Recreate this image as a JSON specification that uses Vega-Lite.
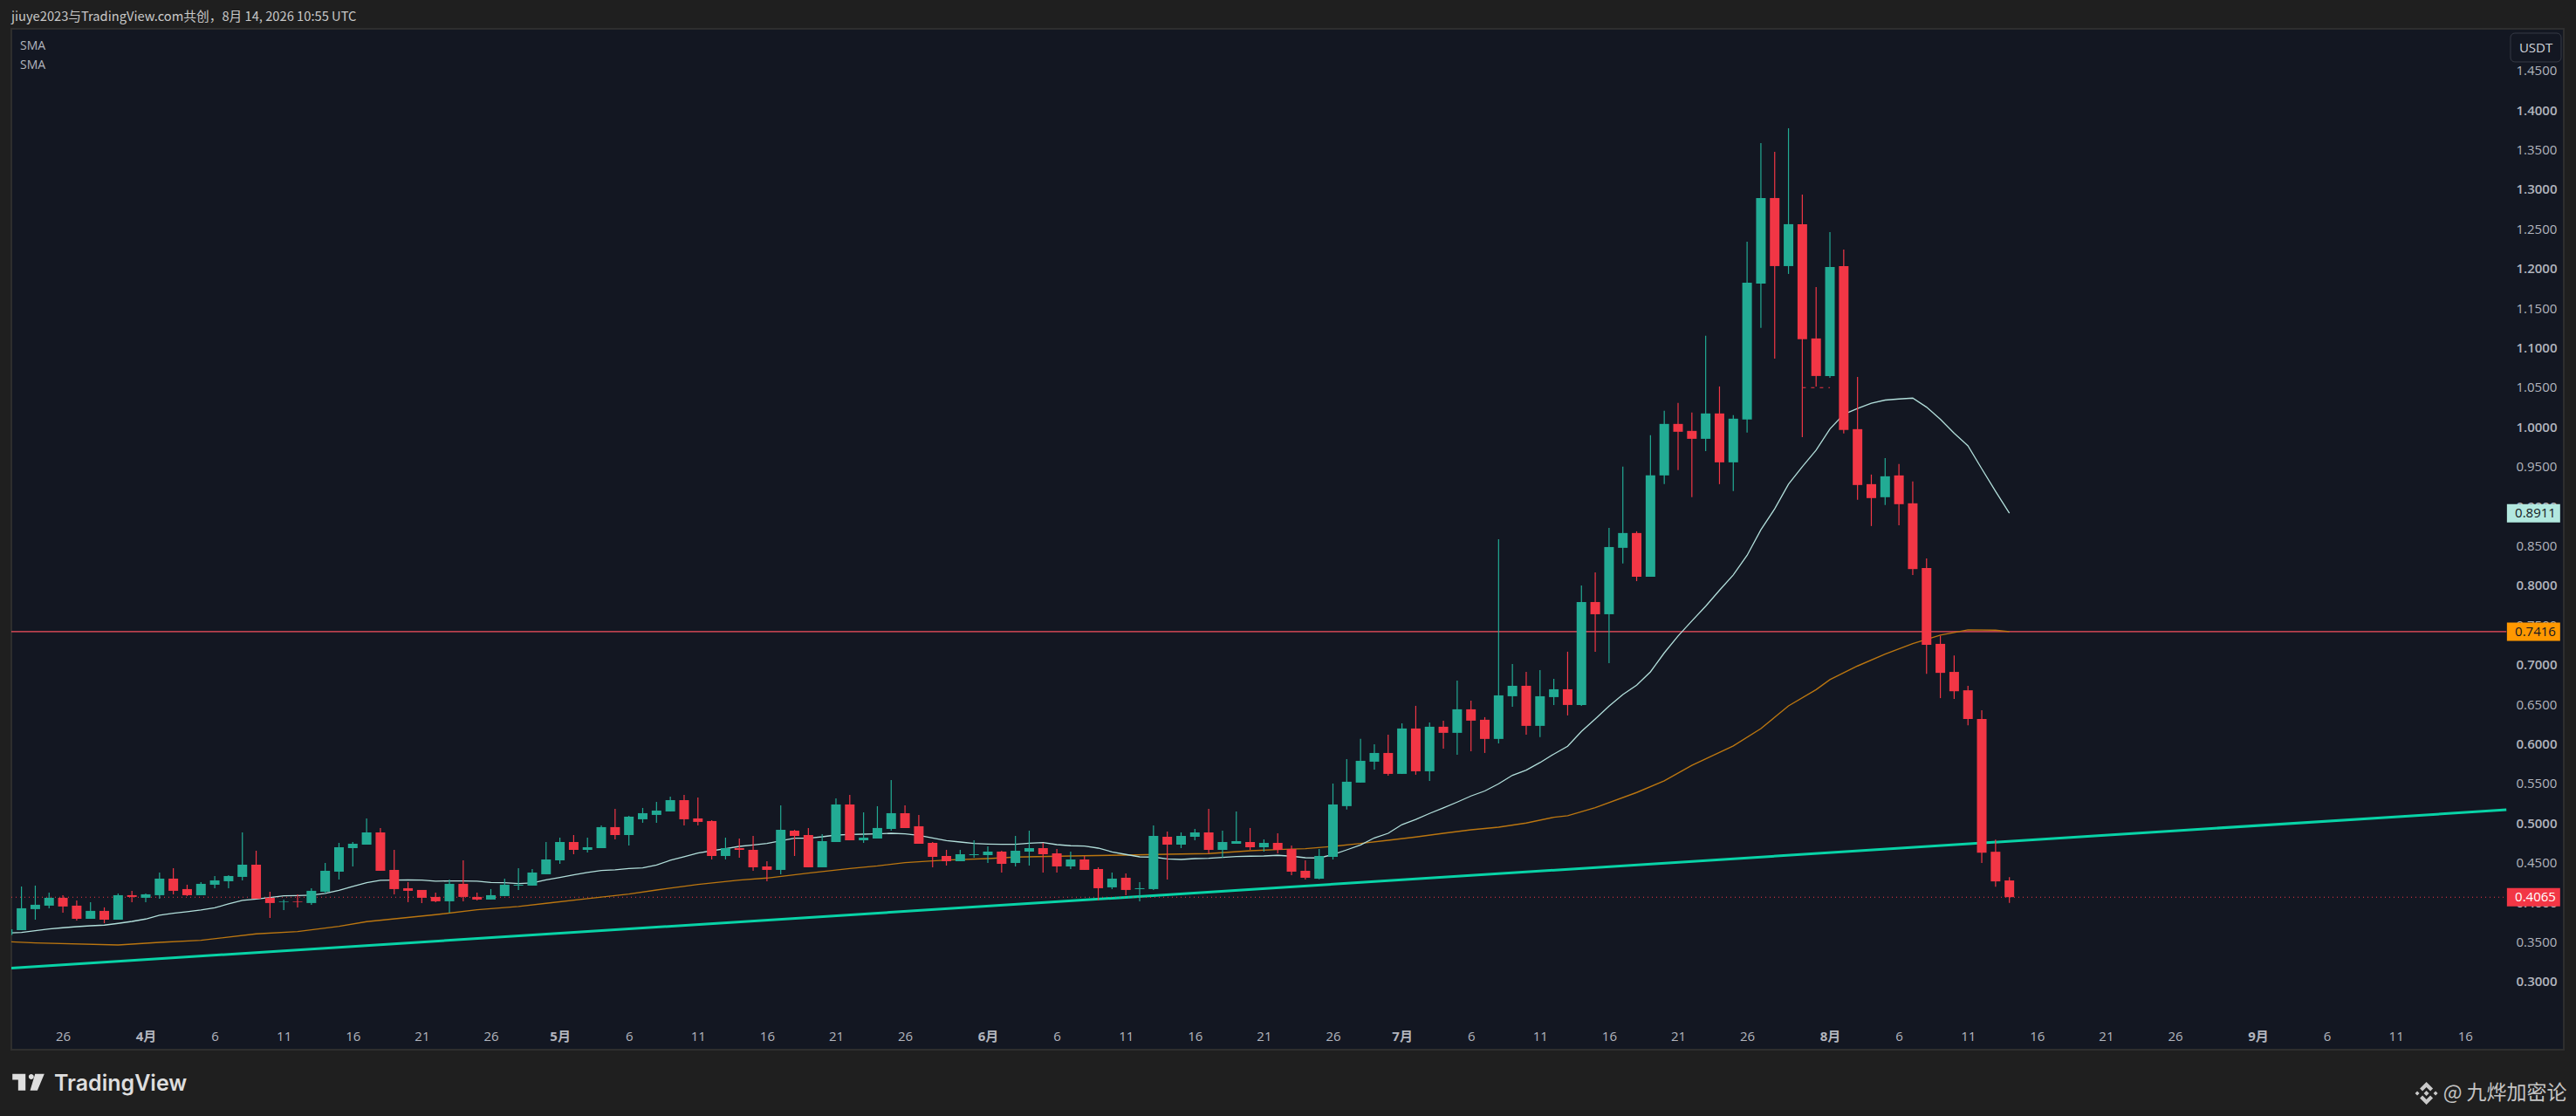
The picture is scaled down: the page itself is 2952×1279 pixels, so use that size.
{
  "$schema": "https://vega.github.io/schema/vega-lite/v6.json",
  "width": 2925,
  "height": 1170,
  "autosize": "none",
  "padding": {"left": 13, "top": 33, "right": 14, "bottom": 76},
  "background": "#1f1f1f",
  "view": {"fill": "#131722", "stroke": "#2e2e2e", "strokeWidth": 2},
  "datasets": {
    "candles": [
      {"d":"2026-03-22","o":0.3587,"h":0.3660,"l":0.3587,"c":0.3660},
      {"d":"2026-03-23","o":0.3649,"h":0.4200,"l":0.3649,"c":0.3925},
      {"d":"2026-03-24","o":0.3914,"h":0.4211,"l":0.3781,"c":0.3969},
      {"d":"2026-03-25","o":0.3958,"h":0.4123,"l":0.3925,"c":0.4057},
      {"d":"2026-03-26","o":0.4057,"h":0.4090,"l":0.3870,"c":0.3947},
      {"d":"2026-03-27","o":0.3958,"h":0.4024,"l":0.3770,"c":0.3792},
      {"d":"2026-03-28","o":0.3792,"h":0.4002,"l":0.3792,"c":0.3892},
      {"d":"2026-03-29","o":0.3892,"h":0.3936,"l":0.3737,"c":0.3781},
      {"d":"2026-03-30","o":0.3781,"h":0.4112,"l":0.3781,"c":0.4090},
      {"d":"2026-03-31","o":0.4090,"h":0.4145,"l":0.4002,"c":0.4068},
      {"d":"2026-04-01","o":0.4057,"h":0.4112,"l":0.4002,"c":0.4101},
      {"d":"2026-04-02","o":0.4090,"h":0.4376,"l":0.4046,"c":0.4299},
      {"d":"2026-04-03","o":0.4299,"h":0.4431,"l":0.4101,"c":0.4145},
      {"d":"2026-04-04","o":0.4167,"h":0.4222,"l":0.4079,"c":0.4090},
      {"d":"2026-04-05","o":0.4090,"h":0.4255,"l":0.4090,"c":0.4233},
      {"d":"2026-04-06","o":0.4222,"h":0.4332,"l":0.4178,"c":0.4277},
      {"d":"2026-04-07","o":0.4266,"h":0.4343,"l":0.4178,"c":0.4332},
      {"d":"2026-04-08","o":0.4321,"h":0.4882,"l":0.4277,"c":0.4475},
      {"d":"2026-04-09","o":0.4475,"h":0.4651,"l":0.4046,"c":0.4046},
      {"d":"2026-04-10","o":0.4057,"h":0.4134,"l":0.3803,"c":0.3991},
      {"d":"2026-04-11","o":0.4002,"h":0.4035,"l":0.3903,"c":0.4009},
      {"d":"2026-04-12","o":0.4009,"h":0.4101,"l":0.3936,"c":0.4002},
      {"d":"2026-04-13","o":0.3991,"h":0.4178,"l":0.3969,"c":0.4145},
      {"d":"2026-04-14","o":0.4134,"h":0.4497,"l":0.4112,"c":0.4398},
      {"d":"2026-04-15","o":0.4387,"h":0.4750,"l":0.4288,"c":0.4695},
      {"d":"2026-04-16","o":0.4684,"h":0.4761,"l":0.4453,"c":0.4739},
      {"d":"2026-04-17","o":0.4728,"h":0.5059,"l":0.4728,"c":0.4882},
      {"d":"2026-04-18","o":0.4882,"h":0.4938,"l":0.4398,"c":0.4398},
      {"d":"2026-04-19","o":0.4409,"h":0.4662,"l":0.4101,"c":0.4167},
      {"d":"2026-04-20","o":0.4178,"h":0.4255,"l":0.4002,"c":0.4145},
      {"d":"2026-04-21","o":0.4156,"h":0.4156,"l":0.3991,"c":0.4057},
      {"d":"2026-04-22","o":0.4068,"h":0.4123,"l":0.4002,"c":0.4013},
      {"d":"2026-04-23","o":0.4013,"h":0.4288,"l":0.3870,"c":0.4233},
      {"d":"2026-04-24","o":0.4233,"h":0.4530,"l":0.4013,"c":0.4068},
      {"d":"2026-04-25","o":0.4068,"h":0.4123,"l":0.4024,"c":0.4035},
      {"d":"2026-04-26","o":0.4035,"h":0.4167,"l":0.4035,"c":0.4090},
      {"d":"2026-04-27","o":0.4079,"h":0.4299,"l":0.4079,"c":0.4222},
      {"d":"2026-04-28","o":0.4211,"h":0.4431,"l":0.4156,"c":0.4222},
      {"d":"2026-04-29","o":0.4211,"h":0.4420,"l":0.4211,"c":0.4376},
      {"d":"2026-04-30","o":0.4354,"h":0.4761,"l":0.4354,"c":0.4541},
      {"d":"2026-05-01","o":0.4530,"h":0.4816,"l":0.4486,"c":0.4761},
      {"d":"2026-05-02","o":0.4761,"h":0.4849,"l":0.4607,"c":0.4662},
      {"d":"2026-05-03","o":0.4662,"h":0.4816,"l":0.4629,"c":0.4695},
      {"d":"2026-05-04","o":0.4684,"h":0.4971,"l":0.4684,"c":0.4949},
      {"d":"2026-05-05","o":0.4949,"h":0.5180,"l":0.4794,"c":0.4849},
      {"d":"2026-05-06","o":0.4849,"h":0.5092,"l":0.4717,"c":0.5081},
      {"d":"2026-05-07","o":0.5048,"h":0.5191,"l":0.5004,"c":0.5125},
      {"d":"2026-05-08","o":0.5103,"h":0.5268,"l":0.5004,"c":0.5158},
      {"d":"2026-05-09","o":0.5147,"h":0.5334,"l":0.5147,"c":0.5290},
      {"d":"2026-05-10","o":0.5290,"h":0.5356,"l":0.4971,"c":0.5048},
      {"d":"2026-05-11","o":0.5059,"h":0.5323,"l":0.4971,"c":0.5015},
      {"d":"2026-05-12","o":0.5026,"h":0.5037,"l":0.4541,"c":0.4585},
      {"d":"2026-05-13","o":0.4585,"h":0.4816,"l":0.4541,"c":0.4684},
      {"d":"2026-05-14","o":0.4684,"h":0.4805,"l":0.4563,"c":0.4662},
      {"d":"2026-05-15","o":0.4662,"h":0.4838,"l":0.4398,"c":0.4442},
      {"d":"2026-05-16","o":0.4453,"h":0.4519,"l":0.4266,"c":0.4409},
      {"d":"2026-05-17","o":0.4409,"h":0.5224,"l":0.4354,"c":0.4915},
      {"d":"2026-05-18","o":0.4904,"h":0.4915,"l":0.4585,"c":0.4838},
      {"d":"2026-05-19","o":0.4849,"h":0.4938,"l":0.4442,"c":0.4442},
      {"d":"2026-05-20","o":0.4442,"h":0.4860,"l":0.4442,"c":0.4772},
      {"d":"2026-05-21","o":0.4761,"h":0.5312,"l":0.4761,"c":0.5235},
      {"d":"2026-05-22","o":0.5235,"h":0.5356,"l":0.4783,"c":0.4783},
      {"d":"2026-05-23","o":0.4783,"h":0.5136,"l":0.4750,"c":0.4816},
      {"d":"2026-05-24","o":0.4805,"h":0.5213,"l":0.4805,"c":0.4938},
      {"d":"2026-05-25","o":0.4926,"h":0.5543,"l":0.4904,"c":0.5125},
      {"d":"2026-05-26","o":0.5125,"h":0.5224,"l":0.4938,"c":0.4938},
      {"d":"2026-05-27","o":0.4960,"h":0.5103,"l":0.4739,"c":0.4739},
      {"d":"2026-05-28","o":0.4750,"h":0.4761,"l":0.4442,"c":0.4574},
      {"d":"2026-05-29","o":0.4585,"h":0.4662,"l":0.4464,"c":0.4519},
      {"d":"2026-05-30","o":0.4519,"h":0.4662,"l":0.4519,"c":0.4607},
      {"d":"2026-05-31","o":0.4596,"h":0.4783,"l":0.4563,"c":0.4607},
      {"d":"2026-06-01","o":0.4596,"h":0.4706,"l":0.4497,"c":0.4640},
      {"d":"2026-06-02","o":0.4640,"h":0.4651,"l":0.4376,"c":0.4486},
      {"d":"2026-06-03","o":0.4497,"h":0.4838,"l":0.4453,"c":0.4651},
      {"d":"2026-06-04","o":0.4640,"h":0.4904,"l":0.4464,"c":0.4684},
      {"d":"2026-06-05","o":0.4684,"h":0.4750,"l":0.4376,"c":0.4607},
      {"d":"2026-06-06","o":0.4618,"h":0.4673,"l":0.4376,"c":0.4453},
      {"d":"2026-06-07","o":0.4453,"h":0.4640,"l":0.4420,"c":0.4541},
      {"d":"2026-06-08","o":0.4541,"h":0.4585,"l":0.4409,"c":0.4409},
      {"d":"2026-06-09","o":0.4420,"h":0.4442,"l":0.4024,"c":0.4178},
      {"d":"2026-06-10","o":0.4189,"h":0.4376,"l":0.4167,"c":0.4299},
      {"d":"2026-06-11","o":0.4310,"h":0.4365,"l":0.4090,"c":0.4156},
      {"d":"2026-06-12","o":0.4167,"h":0.4255,"l":0.4013,"c":0.4178},
      {"d":"2026-06-13","o":0.4167,"h":0.4971,"l":0.4156,"c":0.4838},
      {"d":"2026-06-14","o":0.4827,"h":0.4893,"l":0.4288,"c":0.4728},
      {"d":"2026-06-15","o":0.4728,"h":0.4882,"l":0.4684,"c":0.4838},
      {"d":"2026-06-16","o":0.4827,"h":0.4926,"l":0.4783,"c":0.4882},
      {"d":"2026-06-17","o":0.4882,"h":0.5180,"l":0.4618,"c":0.4662},
      {"d":"2026-06-18","o":0.4662,"h":0.4904,"l":0.4563,"c":0.4761},
      {"d":"2026-06-19","o":0.4739,"h":0.5147,"l":0.4739,"c":0.4772},
      {"d":"2026-06-20","o":0.4761,"h":0.4938,"l":0.4662,"c":0.4695},
      {"d":"2026-06-21","o":0.4695,"h":0.4794,"l":0.4640,"c":0.4750},
      {"d":"2026-06-22","o":0.4750,"h":0.4871,"l":0.4618,"c":0.4662},
      {"d":"2026-06-23","o":0.4673,"h":0.4717,"l":0.4343,"c":0.4387},
      {"d":"2026-06-24","o":0.4398,"h":0.4530,"l":0.4288,"c":0.4310},
      {"d":"2026-06-25","o":0.4298,"h":0.4673,"l":0.4290,"c":0.4585},
      {"d":"2026-06-26","o":0.4574,"h":0.5499,"l":0.4541,"c":0.5235},
      {"d":"2026-06-27","o":0.5214,"h":0.5808,"l":0.5170,"c":0.5522},
      {"d":"2026-06-28","o":0.5511,"h":0.6062,"l":0.5511,"c":0.5786},
      {"d":"2026-06-29","o":0.5775,"h":0.5995,"l":0.5676,"c":0.5885},
      {"d":"2026-06-30","o":0.5885,"h":0.6117,"l":0.5599,"c":0.5621},
      {"d":"2026-07-01","o":0.5621,"h":0.6260,"l":0.5621,"c":0.6194},
      {"d":"2026-07-02","o":0.6194,"h":0.6480,"l":0.5610,"c":0.5654},
      {"d":"2026-07-03","o":0.5654,"h":0.6271,"l":0.5533,"c":0.6216},
      {"d":"2026-07-04","o":0.6216,"h":0.6293,"l":0.5940,"c":0.6139},
      {"d":"2026-07-05","o":0.6139,"h":0.6799,"l":0.5863,"c":0.6436},
      {"d":"2026-07-06","o":0.6436,"h":0.6546,"l":0.5907,"c":0.6293},
      {"d":"2026-07-07","o":0.6304,"h":0.6337,"l":0.5885,"c":0.6062},
      {"d":"2026-07-08","o":0.6062,"h":0.8583,"l":0.6006,"c":0.6612},
      {"d":"2026-07-09","o":0.6601,"h":0.7008,"l":0.6469,"c":0.6733},
      {"d":"2026-07-10","o":0.6733,"h":0.6909,"l":0.6117,"c":0.6227},
      {"d":"2026-07-11","o":0.6227,"h":0.6931,"l":0.6084,"c":0.6601},
      {"d":"2026-07-12","o":0.6590,"h":0.6821,"l":0.6491,"c":0.6689},
      {"d":"2026-07-13","o":0.6689,"h":0.7163,"l":0.6359,"c":0.6491},
      {"d":"2026-07-14","o":0.6491,"h":0.7999,"l":0.6480,"c":0.7790},
      {"d":"2026-07-15","o":0.7790,"h":0.8164,"l":0.7163,"c":0.7636},
      {"d":"2026-07-16","o":0.7636,"h":0.8726,"l":0.7019,"c":0.8484},
      {"d":"2026-07-17","o":0.8474,"h":0.9498,"l":0.8276,"c":0.8661},
      {"d":"2026-07-18","o":0.8661,"h":0.8683,"l":0.8054,"c":0.8109},
      {"d":"2026-07-19","o":0.8109,"h":0.9895,"l":0.8109,"c":0.9388},
      {"d":"2026-07-20","o":0.9388,"h":1.0203,"l":0.9278,"c":1.0038},
      {"d":"2026-07-21","o":1.0038,"h":1.0302,"l":0.9454,"c":0.9939},
      {"d":"2026-07-22","o":0.9950,"h":1.0181,"l":0.9113,"c":0.9850},
      {"d":"2026-07-23","o":0.9850,"h":1.1150,"l":0.9696,"c":1.0170},
      {"d":"2026-07-24","o":1.0170,"h":1.0511,"l":0.9278,"c":0.9553},
      {"d":"2026-07-25","o":0.9553,"h":1.0148,"l":0.9190,"c":1.0104},
      {"d":"2026-07-26","o":1.0093,"h":1.2339,"l":0.9928,"c":1.1821},
      {"d":"2026-07-27","o":1.1810,"h":1.3583,"l":1.1249,"c":1.2889},
      {"d":"2026-07-28","o":1.2889,"h":1.3473,"l":1.0863,"c":1.2030},
      {"d":"2026-07-29","o":1.2030,"h":1.3770,"l":1.1931,"c":1.2559},
      {"d":"2026-07-30","o":1.2559,"h":1.2933,"l":0.9872,"c":1.1106},
      {"d":"2026-07-31","o":1.1117,"h":1.1766,"l":1.0511,"c":1.0643},
      {"d":"2026-08-01","o":1.0643,"h":1.2460,"l":1.0621,"c":1.2019},
      {"d":"2026-08-02","o":1.2030,"h":1.2240,"l":0.9917,"c":0.9961},
      {"d":"2026-08-03","o":0.9972,"h":1.0632,"l":0.9080,"c":0.9267},
      {"d":"2026-08-04","o":0.9278,"h":0.9399,"l":0.8749,"c":0.9102},
      {"d":"2026-08-05","o":0.9113,"h":0.9608,"l":0.9014,"c":0.9377},
      {"d":"2026-08-06","o":0.9388,"h":0.9531,"l":0.8760,"c":0.9025},
      {"d":"2026-08-07","o":0.9036,"h":0.9311,"l":0.8131,"c":0.8206},
      {"d":"2026-08-08","o":0.8218,"h":0.8340,"l":0.6884,"c":0.7250},
      {"d":"2026-08-09","o":0.7262,"h":0.7364,"l":0.6577,"c":0.6896},
      {"d":"2026-08-10","o":0.6908,"h":0.7116,"l":0.6566,"c":0.6664},
      {"d":"2026-08-11","o":0.6676,"h":0.6731,"l":0.6235,"c":0.6314},
      {"d":"2026-08-12","o":0.6314,"h":0.6424,"l":0.4496,"c":0.4626},
      {"d":"2026-08-13","o":0.4638,"h":0.4791,"l":0.4197,"c":0.4264},
      {"d":"2026-08-14","o":0.4276,"h":0.4319,"l":0.3993,"c":0.4065}
    ],
    "sma1": [
      {"d":"2026-03-22","p":0.3613},{"d":"2026-03-23","p":0.3620},{"d":"2026-03-24","p":0.3642},{"d":"2026-03-25","p":0.3664},
      {"d":"2026-03-26","p":0.3679},{"d":"2026-03-27","p":0.3693},{"d":"2026-03-28","p":0.3704},{"d":"2026-03-29","p":0.3712},
      {"d":"2026-03-30","p":0.3734},{"d":"2026-03-31","p":0.3759},{"d":"2026-04-01","p":0.3789},{"d":"2026-04-02","p":0.3837},
      {"d":"2026-04-03","p":0.3862},{"d":"2026-04-04","p":0.3881},{"d":"2026-04-05","p":0.3903},{"d":"2026-04-06","p":0.3932},
      {"d":"2026-04-07","p":0.3980},{"d":"2026-04-08","p":0.4024},{"d":"2026-04-09","p":0.4042},{"d":"2026-04-10","p":0.4060},
      {"d":"2026-04-11","p":0.4082},{"d":"2026-04-12","p":0.4086},{"d":"2026-04-13","p":0.4090},{"d":"2026-04-14","p":0.4112},
      {"d":"2026-04-15","p":0.4152},{"d":"2026-04-16","p":0.4200},{"d":"2026-04-17","p":0.4248},{"d":"2026-04-18","p":0.4277},
      {"d":"2026-04-19","p":0.4281},{"d":"2026-04-20","p":0.4284},{"d":"2026-04-21","p":0.4281},{"d":"2026-04-22","p":0.4266},
      {"d":"2026-04-23","p":0.4270},{"d":"2026-04-24","p":0.4270},{"d":"2026-04-25","p":0.4266},{"d":"2026-04-26","p":0.4251},
      {"d":"2026-04-27","p":0.4248},{"d":"2026-04-28","p":0.4237},{"d":"2026-04-29","p":0.4244},{"d":"2026-04-30","p":0.4284},
      {"d":"2026-05-01","p":0.4314},{"d":"2026-05-02","p":0.4347},{"d":"2026-05-03","p":0.4376},{"d":"2026-05-04","p":0.4402},
      {"d":"2026-05-05","p":0.4409},{"d":"2026-05-06","p":0.4427},{"d":"2026-05-07","p":0.4435},{"d":"2026-05-08","p":0.4471},
      {"d":"2026-05-09","p":0.4530},{"d":"2026-05-10","p":0.4574},{"d":"2026-05-11","p":0.4622},{"d":"2026-05-12","p":0.4651},
      {"d":"2026-05-13","p":0.4677},{"d":"2026-05-14","p":0.4706},{"d":"2026-05-15","p":0.4725},{"d":"2026-05-16","p":0.4743},
      {"d":"2026-05-17","p":0.4776},{"d":"2026-05-18","p":0.4809},{"d":"2026-05-19","p":0.4809},{"d":"2026-05-20","p":0.4827},
      {"d":"2026-05-21","p":0.4849},{"d":"2026-05-22","p":0.4857},{"d":"2026-05-23","p":0.4860},{"d":"2026-05-24","p":0.4864},
      {"d":"2026-05-25","p":0.4871},{"d":"2026-05-26","p":0.4864},{"d":"2026-05-27","p":0.4846},{"d":"2026-05-28","p":0.4813},
      {"d":"2026-05-29","p":0.4780},{"d":"2026-05-30","p":0.4761},{"d":"2026-05-31","p":0.4743},{"d":"2026-06-01","p":0.4736},
      {"d":"2026-06-02","p":0.4732},{"d":"2026-06-03","p":0.4732},{"d":"2026-06-04","p":0.4747},{"d":"2026-06-05","p":0.4754},
      {"d":"2026-06-06","p":0.4728},{"d":"2026-06-07","p":0.4714},{"d":"2026-06-08","p":0.4710},{"d":"2026-06-09","p":0.4684},
      {"d":"2026-06-10","p":0.4637},{"d":"2026-06-11","p":0.4604},{"d":"2026-06-12","p":0.4574},{"d":"2026-06-13","p":0.4571},
      {"d":"2026-06-14","p":0.4548},{"d":"2026-06-15","p":0.4541},{"d":"2026-06-16","p":0.4552},{"d":"2026-06-17","p":0.4556},
      {"d":"2026-06-18","p":0.4567},{"d":"2026-06-19","p":0.4578},{"d":"2026-06-20","p":0.4582},{"d":"2026-06-21","p":0.4585},
      {"d":"2026-06-22","p":0.4593},{"d":"2026-06-23","p":0.4582},{"d":"2026-06-24","p":0.4563},{"d":"2026-06-25","p":0.4560},
      {"d":"2026-06-26","p":0.4603},{"d":"2026-06-27","p":0.4662},{"d":"2026-06-28","p":0.4724},{"d":"2026-06-29","p":0.4813},
      {"d":"2026-06-30","p":0.4871},{"d":"2026-07-01","p":0.4981},{"d":"2026-07-02","p":0.5045},{"d":"2026-07-03","p":0.5122},
      {"d":"2026-07-04","p":0.5192},{"d":"2026-07-05","p":0.5265},{"d":"2026-07-06","p":0.5342},{"d":"2026-07-07","p":0.5405},
      {"d":"2026-07-08","p":0.5496},{"d":"2026-07-09","p":0.5603},{"d":"2026-07-10","p":0.5669},{"d":"2026-07-11","p":0.5764},
      {"d":"2026-07-12","p":0.5871},{"d":"2026-07-13","p":0.5970},{"d":"2026-07-14","p":0.6157},{"d":"2026-07-15","p":0.6315},
      {"d":"2026-07-16","p":0.6476},{"d":"2026-07-17","p":0.6623},{"d":"2026-07-18","p":0.6740},{"d":"2026-07-19","p":0.6909},
      {"d":"2026-07-20","p":0.7148},{"d":"2026-07-21","p":0.7361},{"d":"2026-07-22","p":0.7552},{"d":"2026-07-23","p":0.7737},
      {"d":"2026-07-24","p":0.7938},{"d":"2026-07-25","p":0.8133},{"d":"2026-07-26","p":0.8379},{"d":"2026-07-27","p":0.8702},
      {"d":"2026-07-28","p":0.8966},{"d":"2026-07-29","p":0.9278},{"d":"2026-07-30","p":0.9498},{"d":"2026-07-31","p":0.9707},
      {"d":"2026-08-01","p":0.9975},{"d":"2026-08-02","p":1.0159},{"d":"2026-08-03","p":1.0232},{"d":"2026-08-04","p":1.0298},
      {"d":"2026-08-05","p":1.0339},{"d":"2026-08-06","p":1.0353},{"d":"2026-08-07","p":1.0364},{"d":"2026-08-08","p":1.0250},
      {"d":"2026-08-09","p":1.0096},{"d":"2026-08-10","p":0.9920},{"d":"2026-08-11","p":0.9762},{"d":"2026-08-12","p":0.9472},
      {"d":"2026-08-13","p":0.9186},{"d":"2026-08-14","p":0.8911}
    ],
    "sma2": [
      {"d":"2026-03-22","p":0.3503},{"d":"2026-03-24","p":0.3488},{"d":"2026-03-30","p":0.3462},{"d":"2026-04-02","p":0.3495},
      {"d":"2026-04-05","p":0.3521},{"d":"2026-04-09","p":0.3602},{"d":"2026-04-12","p":0.3631},{"d":"2026-04-15","p":0.3697},
      {"d":"2026-04-17","p":0.3756},{"d":"2026-04-22","p":0.3844},{"d":"2026-04-25","p":0.3906},{"d":"2026-04-28","p":0.3947},
      {"d":"2026-04-30","p":0.3987},{"d":"2026-05-03","p":0.4046},{"d":"2026-05-06","p":0.4104},{"d":"2026-05-08","p":0.4156},
      {"d":"2026-05-11","p":0.4226},{"d":"2026-05-14","p":0.4281},{"d":"2026-05-16","p":0.4306},{"d":"2026-05-19","p":0.4369},
      {"d":"2026-05-22","p":0.4427},{"d":"2026-05-24","p":0.4460},{"d":"2026-05-26","p":0.4501},{"d":"2026-05-29","p":0.4534},
      {"d":"2026-06-01","p":0.4552},{"d":"2026-06-03","p":0.4571},{"d":"2026-06-07","p":0.4585},{"d":"2026-06-11","p":0.4596},
      {"d":"2026-06-14","p":0.4607},{"d":"2026-06-17","p":0.4615},{"d":"2026-06-20","p":0.4651},{"d":"2026-06-22","p":0.4666},
      {"d":"2026-06-24","p":0.4677},{"d":"2026-06-26","p":0.4706},{"d":"2026-06-28","p":0.4743},{"d":"2026-06-30","p":0.4783},
      {"d":"2026-07-02","p":0.4824},{"d":"2026-07-04","p":0.4871},{"d":"2026-07-06","p":0.4915},{"d":"2026-07-08","p":0.4948},
      {"d":"2026-07-10","p":0.5000},{"d":"2026-07-12","p":0.5073},{"d":"2026-07-13","p":0.5093},{"d":"2026-07-15","p":0.5195},
      {"d":"2026-07-18","p":0.5386},{"d":"2026-07-20","p":0.5533},{"d":"2026-07-22","p":0.5728},{"d":"2026-07-25","p":0.5973},
      {"d":"2026-07-27","p":0.6193},{"d":"2026-07-28","p":0.6336},{"d":"2026-07-29","p":0.6479},{"d":"2026-07-31","p":0.6684},
      {"d":"2026-08-01","p":0.6810},{"d":"2026-08-03","p":0.6983},{"d":"2026-08-05","p":0.7132},{"d":"2026-08-07","p":0.7266},
      {"d":"2026-08-09","p":0.7372},{"d":"2026-08-11","p":0.7439},{"d":"2026-08-13","p":0.7435},{"d":"2026-08-14","p":0.7416}
    ],
    "trend": [
      {"d":"2026-03-22T06:23:00Z","p":0.3170},
      {"d":"2026-09-19T00:00:00Z","p":0.5168}
    ],
    "priceTags": [
      {"series":"sma1","label":"0.8911","p":0.8911,"lo":0.8795,"hi":0.9027,"d":"2026-09-19T01:00:00Z","d2":"2026-09-22T21:30:00Z","dc":"2026-09-21T02:30:00Z"},
      {"series":"sma2","label":"0.7416","p":0.7416,"lo":0.7300,"hi":0.7532,"d":"2026-09-19T01:00:00Z","d2":"2026-09-22T21:30:00Z","dc":"2026-09-21T02:30:00Z"},
      {"series":"last","label":"0.4065","p":0.4065,"lo":0.3949,"hi":0.4181,"d":"2026-09-19T01:00:00Z","d2":"2026-09-22T21:30:00Z","dc":"2026-09-21T02:30:00Z"}
    ],
    "texts": [
      {"label":"SMA","d":"2026-03-22T21:36:00Z","p":1.4805},
      {"label":"SMA","d":"2026-03-22T21:36:00Z","p":1.4563}
    ]
  },
  "layer": [
    {
      "data": {"name": "trend"},
      "mark": {"type": "line", "color": "#08d3a7", "strokeWidth": 3, "clip": true},
      "encoding": {
        "x": {
          "field": "d",
          "type": "temporal",
          "title": null,
          "scale": {"type": "utc", "domain": ["2026-03-22T06:23:00Z", "2026-09-23T03:50:00Z"], "padding": 0, "nice": false},
          "axis": {
            "title": null,
            "orient": "bottom",
            "offset": -16,
            "domain": false,
            "ticks": false,
            "grid": false,
            "labelPadding": 0,
            "labelBaseline": "middle",
            "labelFont": "Open Sans, Noto Sans CJK SC",
            "labelFontSize": 15,
            "labelColor": "#b2b5be",
            "labelOverlap": false,
            "labelBound": false,
            "labelFlush": false,
            "labelFontWeight": {"condition": {"test": "utcdate(datum.value) == 1", "value": 700}, "value": 400},
            "labelExpr": "utcdate(datum.value) == 1 ? (utcmonth(datum.value) + 1) + '月' : '' + utcdate(datum.value)",
            "values": [
              "2026-03-26","2026-04-01","2026-04-06","2026-04-11","2026-04-16","2026-04-21","2026-04-26",
              "2026-05-01","2026-05-06","2026-05-11","2026-05-16","2026-05-21","2026-05-26",
              "2026-06-01","2026-06-06","2026-06-11","2026-06-16","2026-06-21","2026-06-26",
              "2026-07-01","2026-07-06","2026-07-11","2026-07-16","2026-07-21","2026-07-26",
              "2026-08-01","2026-08-06","2026-08-11","2026-08-16","2026-08-21","2026-08-26",
              "2026-09-01","2026-09-06","2026-09-11","2026-09-16"
            ]
          }
        },
        "y": {
          "field": "p",
          "type": "quantitative",
          "title": null,
          "scale": {"domain": [0.214, 1.5025], "nice": false, "zero": false},
          "axis": {
            "title": null,
            "orient": "right",
            "offset": -66,
            "domain": false,
            "ticks": false,
            "grid": false,
            "labelPadding": 11,
            "labelFont": "Open Sans",
            "labelFontSize": 15,
            "labelColor": "#b2b5be",
            "labelOverlap": false,
            "labelBound": false,
            "labelFlush": false,
            "format": ".4f",
            "labelFontWeight": {"condition": {"test": "test(/000$/, datum.label)", "value": 600}, "value": 400},
            "values": [0.3,0.35,0.4,0.45,0.5,0.55,0.6,0.65,0.7,0.75,0.8,0.85,0.9,0.95,1,1.05,1.1,1.15,1.2,1.25,1.3,1.35,1.4,1.45]
          }
        }
      }
    },
    {
      "data": {"values": [{"d":"2026-03-22T06:23:00Z","d2":"2026-09-19T00:00:00Z","p":0.7416}]},
      "mark": {"type": "rule", "color": "#f7525f", "strokeWidth": 1.4, "clip": true},
      "encoding": {
        "x": {"field": "d", "type": "temporal", "title": null},
        "x2": {"field": "d2"},
        "y": {"field": "p", "type": "quantitative", "title": null}
      }
    },
    {
      "data": {"values": [{"d":"2026-03-22T06:23:00Z","d2":"2026-09-19T00:00:00Z","p":0.4065}]},
      "mark": {"type": "rule", "color": "#f23645", "strokeWidth": 1.1, "strokeDash": [1, 4], "clip": true},
      "encoding": {
        "x": {"field": "d", "type": "temporal", "title": null},
        "x2": {"field": "d2"},
        "y": {"field": "p", "type": "quantitative", "title": null}
      }
    },
    {
      "data": {"values": [{"d":"2026-07-30","d2":"2026-08-01","p":1.0496}]},
      "mark": {"type": "rule", "color": "#f23645", "strokeWidth": 1, "strokeDash": [4, 6]},
      "encoding": {
        "x": {"field": "d", "type": "temporal", "title": null},
        "x2": {"field": "d2"},
        "y": {"field": "p", "type": "quantitative", "title": null}
      }
    },
    {
      "data": {"name": "sma2"},
      "mark": {"type": "line", "color": "#bb7610", "strokeWidth": 1.4, "clip": true},
      "encoding": {
        "x": {"field": "d", "type": "temporal", "title": null},
        "y": {"field": "p", "type": "quantitative", "title": null}
      }
    },
    {
      "data": {"name": "sma1"},
      "mark": {"type": "line", "color": "#b2dfdb", "strokeWidth": 1.3, "clip": true},
      "encoding": {
        "x": {"field": "d", "type": "temporal", "title": null},
        "y": {"field": "p", "type": "quantitative", "title": null}
      }
    },
    {
      "data": {"name": "candles"},
      "mark": {"type": "rule", "strokeWidth": 1.2, "clip": true},
      "encoding": {
        "x": {"field": "d", "type": "temporal", "title": null},
        "y": {"field": "l", "type": "quantitative", "title": null},
        "y2": {"field": "h"},
        "color": {"condition": {"test": "datum.c >= datum.o", "value": "#22ab94"}, "value": "#f23645"}
      }
    },
    {
      "data": {"name": "candles"},
      "mark": {"type": "bar", "width": 11, "clip": true},
      "encoding": {
        "x": {"field": "d", "type": "temporal", "title": null},
        "y": {"field": "o", "type": "quantitative", "title": null},
        "y2": {"field": "c"},
        "color": {"condition": {"test": "datum.c >= datum.o", "value": "#22ab94"}, "value": "#f23645"}
      }
    },
    {
      "data": {"name": "priceTags"},
      "mark": {"type": "rect"},
      "encoding": {
        "x": {"field": "d", "type": "temporal", "title": null},
        "x2": {"field": "d2"},
        "y": {"field": "lo", "type": "quantitative", "title": null},
        "y2": {"field": "hi"},
        "color": {"field": "series", "type": "nominal", "legend": null, "scale": {"domain": ["sma1", "sma2", "last"], "range": ["#b2e8df", "#ff9800", "#f23645"]}}
      }
    },
    {
      "data": {"name": "priceTags"},
      "mark": {"type": "text", "font": "Open Sans", "fontSize": 15},
      "encoding": {
        "x": {"field": "dc", "type": "temporal", "title": null},
        "y": {"field": "p", "type": "quantitative", "title": null},
        "text": {"field": "label"},
        "color": {"condition": {"test": "datum.series == 'last'", "value": "#ffffff"}, "value": "#131722"}
      }
    },
    {
      "data": {"values": [{"d":"2026-09-19T07:12:00Z","d2":"2026-09-22T23:17:00Z","lo":1.4607,"hi":1.4970}]},
      "mark": {"type": "rect", "fill": "#131722", "stroke": "#363a45", "strokeWidth": 1, "cornerRadius": 5},
      "encoding": {
        "x": {"field": "d", "type": "temporal", "title": null},
        "x2": {"field": "d2"},
        "y": {"field": "lo", "type": "quantitative", "title": null},
        "y2": {"field": "hi"}
      }
    },
    {
      "data": {"values": [{"label":"USDT","d":"2026-09-21T03:22:00Z","p":1.4788}]},
      "mark": {"type": "text", "font": "Open Sans", "fontSize": 15, "color": "#d1d4dc"},
      "encoding": {
        "x": {"field": "d", "type": "temporal", "title": null},
        "y": {"field": "p", "type": "quantitative", "title": null},
        "text": {"field": "label"}
      }
    },
    {
      "data": {"name": "texts"},
      "mark": {"type": "text", "font": "Open Sans", "fontSize": 14, "color": "#b2b5be", "align": "left"},
      "encoding": {
        "x": {"field": "d", "type": "temporal", "title": null},
        "y": {"field": "p", "type": "quantitative", "title": null},
        "text": {"field": "label"}
      }
    },
    {
      "data": {"values": [{"label":"jiuye2023与TradingView.com共创，8月 14, 2026 10:55 UTC","d":"2026-03-22T06:23:00Z","p":1.5169}]},
      "mark": {"type": "text", "font": "Noto Sans CJK SC", "fontSize": 14.7, "color": "#c8c8c8", "align": "left"},
      "encoding": {
        "x": {"field": "d", "type": "temporal", "title": null},
        "y": {"field": "p", "type": "quantitative", "title": null},
        "text": {"field": "label"}
      }
    },
    {
      "data": {"values": [{"label":"TradingView","d":"2026-03-25T08:38:00Z","p":0.1714}]},
      "mark": {"type": "text", "font": "Inter", "fontSize": 25, "fontWeight": 600, "color": "#dedede", "align": "left"},
      "encoding": {
        "x": {"field": "d", "type": "temporal", "title": null},
        "y": {"field": "p", "type": "quantitative", "title": null},
        "text": {"field": "label"}
      }
    },
    {
      "data": {"values": [{"d":"2026-03-23T12:00:00Z","p":0.1730}]},
      "mark": {
        "type": "point",
        "filled": true,
        "opacity": 1,
        "size": 400,
        "color": "#dedede",
        "shape": "M-1.83 -.95 H-.33 V.95 H-1.17 V-.28 H-1.83 Z M.03 -.62 a.3 .3 0 1 0 .6 0 a.3 .3 0 1 0 -.6 0 Z M.77 -.95 H1.83 L1.03 .95 H.2 Z"
      },
      "encoding": {
        "x": {"field": "d", "type": "temporal", "title": null},
        "y": {"field": "p", "type": "quantitative", "title": null}
      }
    },
    {
      "data": {"values": [{"label":"@ 九烨加密论","d":"2026-09-14T10:00:00Z","p":0.1589}]},
      "mark": {"type": "text", "font": "Noto Sans CJK SC", "fontSize": 23, "color": "#c4c4c4", "align": "left"},
      "encoding": {
        "x": {"field": "d", "type": "temporal", "title": null},
        "y": {"field": "p", "type": "quantitative", "title": null},
        "text": {"field": "label"}
      }
    },
    {
      "data": {"values": [{"d":"2026-09-13T05:00:00Z","p":0.1589}]},
      "mark": {
        "type": "point",
        "filled": true,
        "opacity": 1,
        "size": 400,
        "color": "#c9c9c9",
        "shape": "M0 -.3 L.3 0 L0 .3 L-.3 0 Z M-1.3 0 L-1.05 -.25 L-.8 0 L-1.05 .25 Z M1.3 0 L1.05 -.25 L.8 0 L1.05 .25 Z M0 -1.3 L.75 -.55 L.45 -.25 L0 -.7 L-.45 -.25 L-.75 -.55 Z M0 1.3 L.75 .55 L.45 .25 L0 .7 L-.45 .25 L-.75 .55 Z"
      },
      "encoding": {
        "x": {"field": "d", "type": "temporal", "title": null},
        "y": {"field": "p", "type": "quantitative", "title": null}
      }
    }
  ]
}
